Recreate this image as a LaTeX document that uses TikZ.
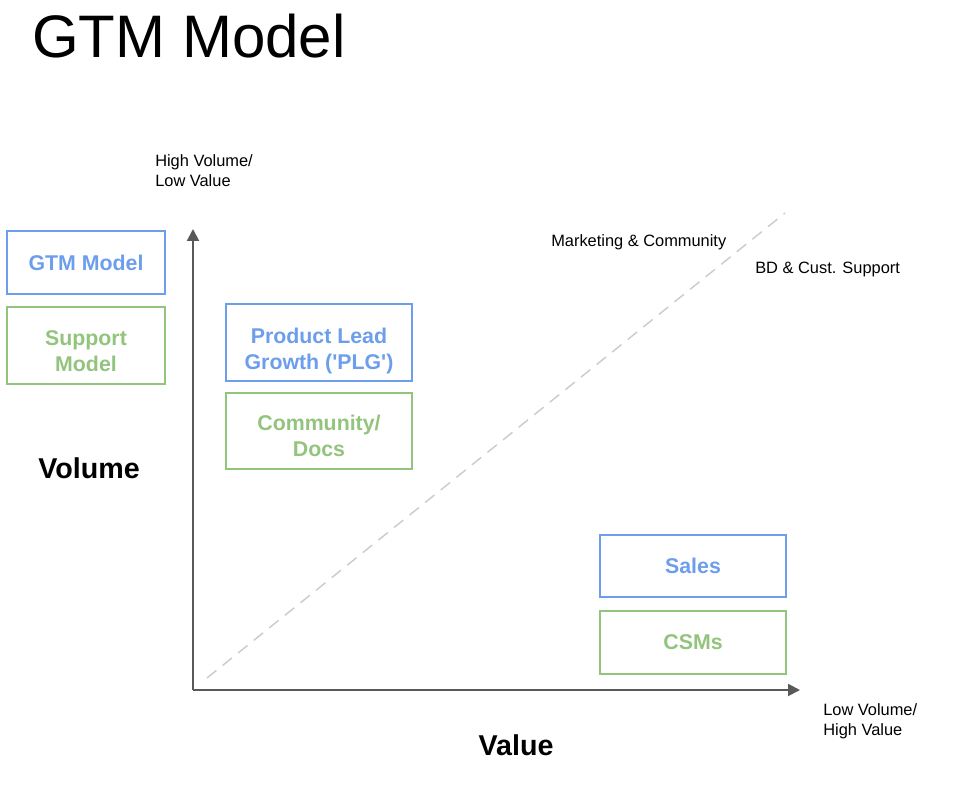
\documentclass[tikz,border=0pt]{standalone}
\usepackage{fontspec}
\setmainfont{Liberation Sans}[Ligatures=TeXOff]
\usetikzlibrary{arrows.meta}
\definecolor{gtmblue}{HTML}{6D9EEB}
\definecolor{gtmgreen}{HTML}{93C47D}
\definecolor{axisgray}{HTML}{595959}
\definecolor{diaggray}{HTML}{CCCCCC}
\newcommand{\upstrut}[1][19pt]{\rule{0pt}{#1}}
\begin{document}
\begin{tikzpicture}[x=0.75pt, y=-0.75pt,
  modelbox/.style={draw, line width=1.1pt, align=center, font=\bfseries\fontsize{16}{19.5}\selectfont, inner sep=0pt},
  bluebox/.style={modelbox, draw=gtmblue, text=gtmblue},
  greenbox/.style={modelbox, draw=gtmgreen, text=gtmgreen},
  smalltext/.style={font=\fontsize{12.3}{15}\selectfont, align=left, anchor=west, inner sep=0pt},
  axislabel/.style={font=\bfseries\fontsize{21.5}{25}\selectfont, inner sep=0pt},
  axisline/.style={axisgray, line width=1.5pt, -{Triangle[length=9pt, width=9pt]}}]
\useasboundingbox (0,0) rectangle (978,798);

% title
\node[anchor=base west, inner sep=0pt, font=\fontsize{45}{50}\selectfont] (title) at (32,58) {GTM Model};

% legend
\node[bluebox, minimum width=118.5pt, minimum height=47.25pt] (gtm) at (86,262.5) {GTM Model};
\node[greenbox, minimum width=118.5pt, minimum height=57.75pt] (support) at (86,345.5) {\upstrut Support\\Model};

% axes
\coordinate (origin) at (193,690);
\coordinate (ytop) at (193,229);
\coordinate (xend) at (800,690);
\draw[axisline] (origin) -- (ytop);
\draw[axisline] (origin) -- (xend);

% diagonal
\coordinate (dstart) at (207,678);
\coordinate (dend) at (785,213);
\draw[diaggray, line width=1.1pt, dash pattern=on 9pt off 6pt] (dstart) -- (dend);

% axis labels
\node[smalltext] (highvol) at (155,171) {High Volume/\\Low Value};
\node[smalltext] (lowvol) at (823,721) {Low Volume/\\High Value};
\node[axislabel] (volume) at (89,468) {Volume};
\node[axislabel] (value) at (516,745) {Value};
\node[smalltext] (mkt) at (551,242) {Marketing \& Community};
\node[smalltext] (bd) at (755,269) {BD \& Cust. Support};

% quadrants
\node[bluebox, minimum width=139.5pt, minimum height=57.75pt] (plg) at (319,342.5) {\upstrut[24pt]Product Lead\\Growth ('PLG')};
\node[greenbox, minimum width=139.5pt, minimum height=57pt] (docs) at (319,431) {\upstrut Community/\\Docs};
\node[bluebox, minimum width=139.5pt, minimum height=46.5pt] (sales) at (693,566) {Sales};
\node[greenbox, minimum width=139.5pt, minimum height=47.25pt] (csms) at (693,642.5) {CSMs};
\end{tikzpicture}
\end{document}
